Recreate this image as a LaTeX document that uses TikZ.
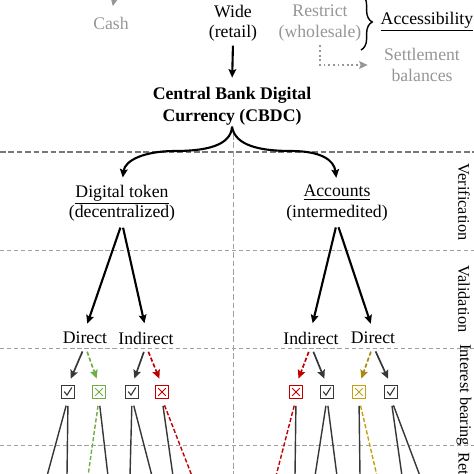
\documentclass[tikz,border=0pt]{standalone}
\usepackage{fontspec}
\setmainfont{Liberation Serif}
\usetikzlibrary{arrows.meta,decorations.pathreplacing}

\definecolor{softgrey}{RGB}{150,150,150}
\definecolor{linegrey}{RGB}{55,55,55}
\definecolor{bandgrey}{RGB}{120,120,120}
\definecolor{okgreen}{RGB}{112,173,71}
\definecolor{nored}{RGB}{192,0,0}
\definecolor{noyellow}{RGB}{196,160,20}

\tikzset{
  yesbox/.style={draw=linegrey, line width=0.7pt, minimum size=9pt, inner sep=0pt,
    path picture={\draw[linegrey, line width=0.8pt]
      ([shift={(-2.7pt,0.3pt)}]path picture bounding box.center) -- ++(2pt,-2.5pt) -- ++(3.4pt,5.4pt);}},
  nobox/.style={draw=#1, line width=0.7pt, minimum size=9pt, inner sep=0pt,
    path picture={\draw[#1, line width=0.7pt]
      ([shift={(-2.7pt,-2.7pt)}]path picture bounding box.center) -- ++(5.4pt,5.4pt)
      ([shift={(-2.7pt,2.7pt)}]path picture bounding box.center) -- ++(5.4pt,-5.4pt);}}
}

\begin{document}
\begin{tikzpicture}[x=0.025cm, y=-0.025cm, >={Stealth[length=6pt,width=5.5pt,inset=1pt]},
    font=\fontsize{12.6}{14.5}\selectfont]
 \tikzstyle{txt}=[align=center, inner sep=1pt]
 \tikzstyle{faded}=[txt, text=softgrey]
 \tikzstyle{band}=[bandgrey!70, line width=0.7pt, dash pattern=on 3pt off 2pt]
 \tikzstyle{topband}=[bandgrey, line width=1pt, dash pattern=on 4pt off 2pt]
 \tikzstyle{main}=[->, line width=1.5pt, black]
 \tikzstyle{sub}=[->, line width=1.2pt, linegrey]
 \tikzstyle{opt}=[->, line width=1.2pt, dash pattern=on 3pt off 1.5pt]
 \tikzstyle{leg}=[line width=1pt, linegrey]
 \tikzstyle{optleg}=[line width=1pt, dash pattern=on 3pt off 1.5pt]
 \tikzstyle{layer}=[rotate=-90, inner sep=0pt, font=\fontsize{11.6}{14}\selectfont]

 \useasboundingbox (0,0) rectangle (474,474);
 \clip (0,0) rectangle (474,474);

 % layers
 \draw[topband] (0,152) -- (474,152);
 \draw[band] (0,250) -- (474,250);
 \draw[band] (0,348) -- (474,348);
 \draw[band] (0,445) -- (474,445);
 \draw[band, dash pattern=on 4pt off 2pt] (233,134) -- (233,474);

 \node[layer] (verif) at (464,202) {Verification};
 \node[layer] (valid) at (464,299) {Validation};
 \node[layer] (inter) at (464,395) {Interest bearing};
 \node[layer, anchor=west] (reta) at (464,452) {Reta};

 % accessibility
 \node[faded] (cash)     at (111,23)  {Cash};
 \node[txt]   (wide)     at (233,23)  {Wide\\(retail)};
 \node[faded] (restrict) at (320,23)  {Restrict\\(wholesale)};
 \node[txt]   (access)   at (427,22)  {\underline{Accessibility}};
 \node[faded] (settle)   at (422,65)  {Settlement\\balances};
 \node[txt, font=\fontsize{12.6}{15.5}\selectfont\bfseries] (cbdc) at (232,106) {Central Bank Digital\\Currency (CBDC)};

 \coordinate (cashin) at (116,-10);
 \coordinate (bracetop) at (361,-6);
 \coordinate (bracebot) at (361,50);
 \coordinate (splitL) at (175,151);
 \coordinate (splitR) at (291,151);

 \draw[->, softgrey, line width=1.3pt, shorten >=6.5pt] (cashin) -- (cash.north);
 \draw[decorate, decoration={brace, amplitude=8pt}, line width=1pt] (bracetop) -- (bracebot);
 \draw[->, softgrey, dotted, line width=1.3pt, shorten <=2pt, shorten >=10.5pt] (restrict.south) |- (settle.west);
 \draw[main, shorten <=2pt, shorten >=5.5pt] (wide.south) -- (cbdc.north);

 % verification
 \node[txt] (token)    at (122,203) {\underline{Digital token}\\(decentralized)};
 \node[txt] (accounts) at (337,203) {\underline{Accounts}\\(intermedited)};

 \draw[main, shorten >=4pt] (cbdc.south) .. controls (231,146) and (205,151) .. (splitL)
   .. controls (145,151) and (125,160) .. (token.north);
 \draw[main, shorten >=4pt] (cbdc.south) .. controls (235,146) and (261,151) .. (splitR)
   .. controls (321,151) and (334,160) .. (accounts.north);

 % validation
 \node[txt] (dirL) at (85,338)  {Direct};
 \node[txt] (indL) at (146,338) {Indirect};
 \node[txt] (indR) at (311,338) {Indirect};
 \node[txt] (dirR) at (373,338) {Direct};

 \path[main, shorten <=3.5pt, shorten >=5pt]
   (token.south)    edge (dirL.north)
   (token.south)    edge (indL.north)
   (accounts.south) edge (indR.north)
   (accounts.south) edge (dirR.north);

 % interest bearing
 \node[yesbox]         (dlYes) at (68,392)  {};
 \node[nobox=okgreen]  (dlNo)  at (99,392)  {};
 \node[yesbox]         (ilYes) at (132,392) {};
 \node[nobox=nored]    (ilNo)  at (162,392) {};
 \node[nobox=nored]    (irNo)  at (296,392) {};
 \node[yesbox]         (irYes) at (327,392) {};
 \node[nobox=noyellow] (drNo)  at (359,392) {};
 \node[yesbox]         (drYes) at (391,392) {};

 \path[shorten <=4.5pt, shorten >=5pt]
   (dirL.south) edge[sub]               (dlYes.north)
   (dirL.south) edge[opt, okgreen]      (dlNo.north)
   (indL.south) edge[sub]               (ilYes.north)
   (indL.south) edge[opt, nored]        (ilNo.north)
   (indR.south) edge[opt, nored]        (irNo.north)
   (indR.south) edge[sub]               (irYes.north)
   (dirR.south) edge[opt, noyellow!85!black] (drNo.north)
   (dirR.south) edge[sub]               (drYes.north);

 % further layers
 \foreach \name/\x in {a/47,b/67,c/88,d/108,e/130,f/152,g/173,h/192,
                       i/276,j/295,k/315,l/337,m/360,n/377,o/402,p/420}
   \coordinate (end\name) at (\x,476);

 \path[shorten <=5pt]
   (dlYes.south) edge[leg]              (enda)
   (dlYes.south) edge[leg]              (endb)
   (dlNo.south)  edge[optleg, okgreen]  (endc)
   (dlNo.south)  edge[leg]              (endd)
   (ilYes.south) edge[leg]              (ende)
   (ilYes.south) edge[leg]              (endf)
   (ilNo.south)  edge[leg]              (endg)
   (ilNo.south)  edge[optleg, nored]    (endh)
   (irNo.south)  edge[optleg, nored]    (endi)
   (irNo.south)  edge[leg]              (endj)
   (irYes.south) edge[leg]              (endk)
   (irYes.south) edge[leg]              (endl)
   (drNo.south)  edge[leg]              (endm)
   (drNo.south)  edge[optleg, noyellow] (endn)
   (drYes.south) edge[leg]              (endo)
   (drYes.south) edge[leg]              (endp);
\end{tikzpicture}
\end{document}
